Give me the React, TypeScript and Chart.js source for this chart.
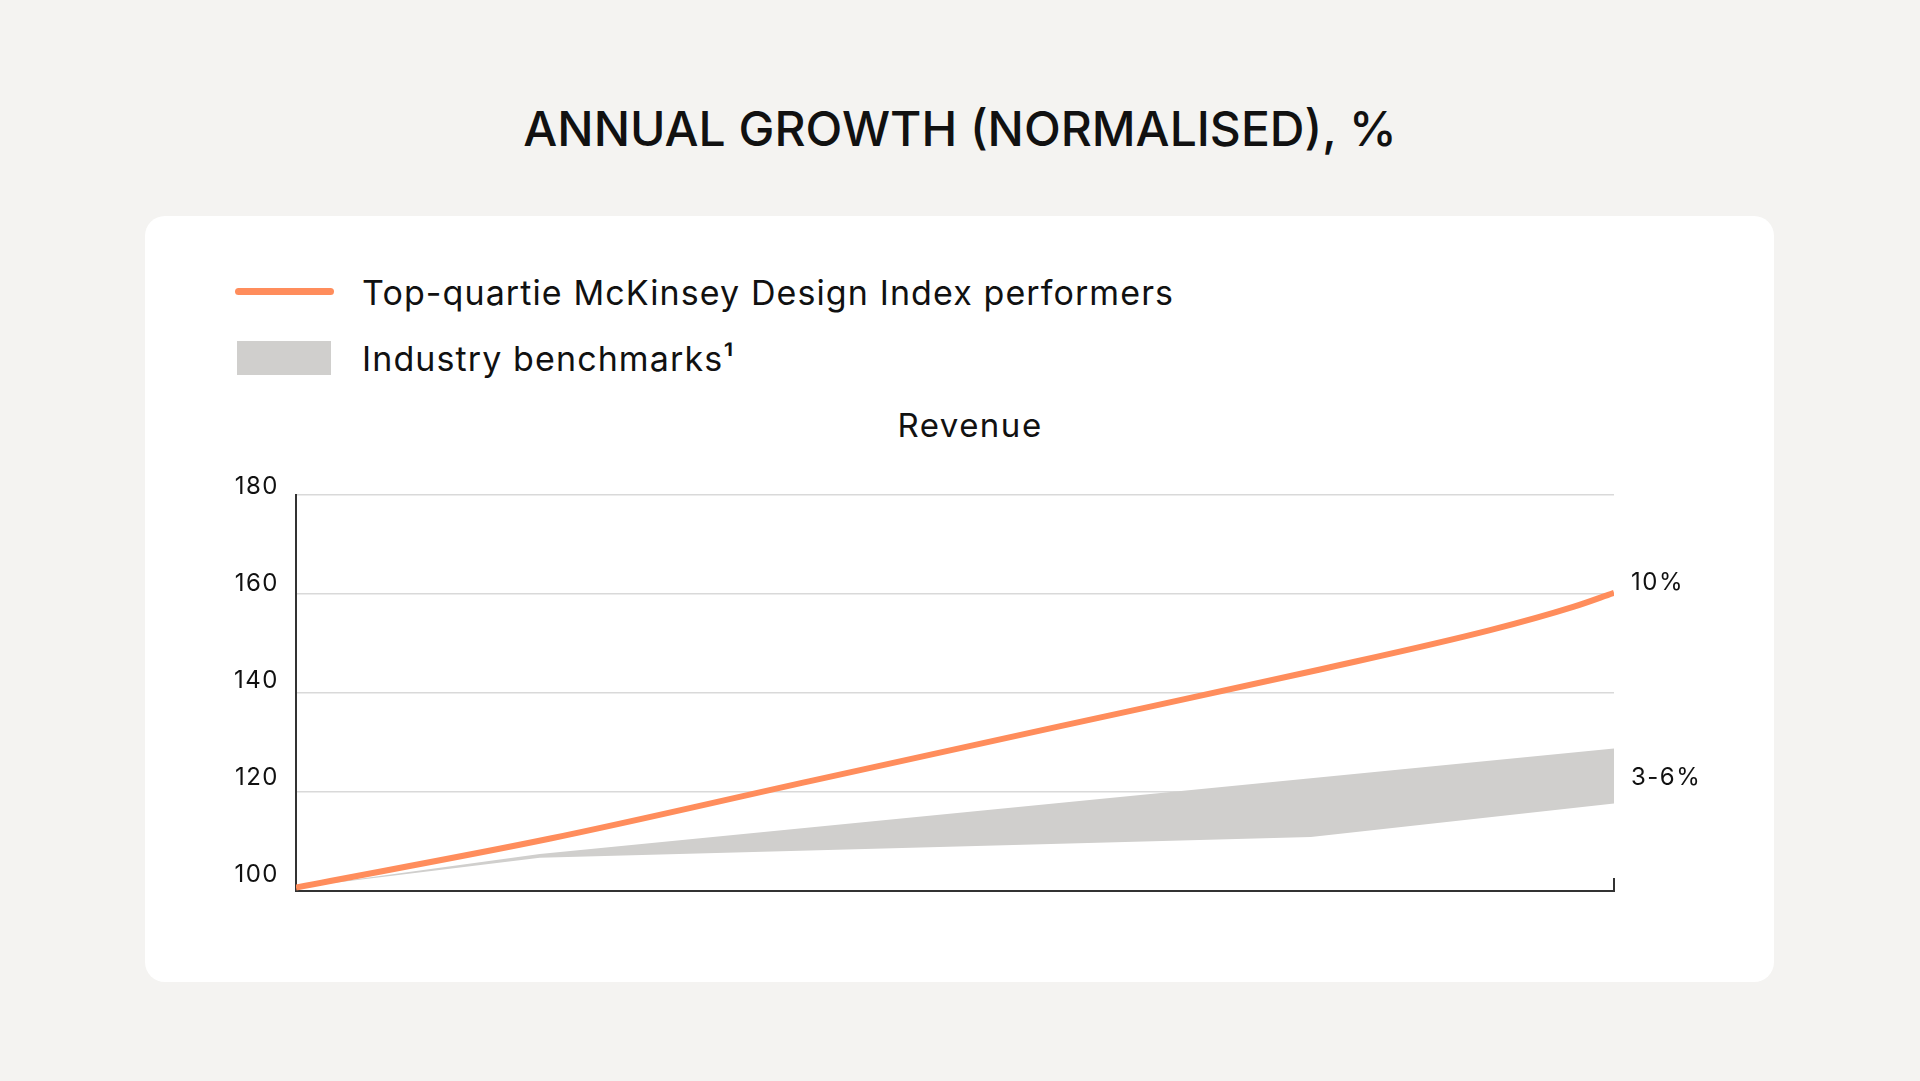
import React, { useEffect, useRef } from "react";
import { Chart, registerables } from "chart.js";

Chart.register(...registerables);

// ---- Data ----
const chartTitle = "ANNUAL GROWTH (NORMALISED), %";
const panelTitle = "Revenue";
const seriesNames = ["Top-quartie McKinsey Design Index performers", "Industry benchmarks¹"];
const yTicks = [100, 120, 140, 160, 180];
// x: share of the period (0 = start, 100 = end)
const topX = [0, 19.3, 39, 58, 77.7, 90.6, 96.9, 100];
const topQuartile = [100.7, 110.6, 122.2, 133.3, 144.75, 152.7, 157.4, 160.25];
const bandX = [0, 18.5, 77, 100];
const bandLower = [100.7, 106.7, 110.9, 117.7];
const bandUpper = [100.7, 107.5, 122.8, 128.8];
const endLabels = ["10%", "3-6%"];

const ORANGE = "#ff8d5c";
const GREY = "#d0cfcd";
const FONT = "Inter, 'Noto Sans', sans-serif";

const labelPlugin = {
  id: "labelsAndTick",
  afterDraw(chart: any) {
    const { ctx } = chart;
    const xs = chart.scales.x;
    const ys = chart.scales.y;
    ctx.save();
    // small end tick on the x axis
    ctx.strokeStyle = "#333";
    ctx.lineWidth = 2;
    ctx.beginPath();
    ctx.moveTo(xs.right, ys.bottom);
    ctx.lineTo(xs.right, ys.bottom - 13);
    ctx.stroke();
    ctx.fillStyle = "#111";
    ctx.font = `400 24px ${FONT}`;
    (ctx as any).letterSpacing = "1.5px";
    ctx.textBaseline = "middle";
    // y tick labels, sitting just above their gridlines
    ctx.textAlign = "right";
    yTicks.forEach((v) => {
      const off = 8 + (yTicks[yTicks.length - 1] - v) / 10;
      ctx.fillText(String(v), ys.left + ys.width - 17, ys.getPixelForValue(v) - off);
    });
    // end labels
    ctx.textAlign = "left";
    const lastTop = topQuartile[topQuartile.length - 1];
    ctx.fillText(endLabels[0], xs.right + 17, ys.getPixelForValue(lastTop) - 10);
    const mid = (bandLower[bandLower.length - 1] + bandUpper[bandUpper.length - 1]) / 2;
    ctx.fillText(endLabels[1], xs.right + 17, ys.getPixelForValue(mid) + 2);
    ctx.restore();
  },
};

function RevenueChart() {
  const ref = useRef<HTMLCanvasElement | null>(null);
  useEffect(() => {
    if (!ref.current) return;
    const chart = new Chart(ref.current, {
      type: "line",
      data: {
        datasets: [
          {
            label: "lower",
            data: bandX.map((x, i) => ({ x, y: bandLower[i] })),
            borderWidth: 0,
            borderColor: GREY,
            pointRadius: 0,
            fill: false,
            order: 1,
          },
          {
            label: seriesNames[1],
            data: bandX.map((x, i) => ({ x, y: bandUpper[i] })),
            borderWidth: 0,
            borderColor: GREY,
            backgroundColor: GREY,
            pointRadius: 0,
            fill: "-1",
            order: 2,
          },
          {
            label: seriesNames[0],
            data: topX.map((x, i) => ({ x, y: topQuartile[i] })),
            borderColor: ORANGE,
            borderWidth: 6,
            pointRadius: 0,
            cubicInterpolationMode: "monotone",
            fill: false,
            order: 0,
          },
        ],
      },
      options: {
        animation: false,
        responsive: false,
        maintainAspectRatio: false,
        layout: { padding: { left: 0, right: 86, top: 55, bottom: 20 } },
        plugins: { legend: { display: false }, tooltip: { enabled: false }, title: { display: false } },
        scales: {
          x: {
            type: "linear",
            min: 0,
            max: 100,
            grid: { display: false },
            border: { display: true, color: "#333", width: 2 },
            ticks: { display: false },
            afterFit: (s: any) => {
              s.height = 0;
            },
          },
          y: {
            min: yTicks[0],
            max: yTicks[yTicks.length - 1],
            afterBuildTicks: (s: any) => {
              s.ticks = yTicks.map((v) => ({ value: v }));
            },
            grid: { color: "#d9d9d9", lineWidth: 1.5, drawTicks: false },
            border: { display: true, color: "#333", width: 2 },
            ticks: { display: false },
            afterFit: (s: any) => {
              s.width = 96;
            },
          },
        },
      },
      plugins: [labelPlugin],
    } as any);
    return () => chart.destroy();
  }, []);
  return <canvas ref={ref} width={1500} height={471} style={{ position: "absolute", left: 200, top: 440, width: 1500, height: 471 }} />;
}

export default function App() {
  return (
    <div style={{ position: "fixed", left: 0, top: 0, width: 1920, height: 1081, background: "#f4f3f1", fontFamily: FONT, color: "#111", overflow: "hidden" }}>
      <div style={{ position: "absolute", left: 0, width: 1920, top: 100, textAlign: "center", fontSize: 48, fontWeight: 500, lineHeight: "58px" }}>
        {chartTitle}
      </div>
      <div style={{ position: "absolute", left: 145, top: 216, width: 1629, height: 766, background: "#fff", borderRadius: 20 }} />
      <div style={{ position: "absolute", left: 235, top: 288, width: 99, height: 7, borderRadius: 4, background: ORANGE }} />
      <div style={{ position: "absolute", left: 362, top: 273, fontSize: 34, letterSpacing: "1.1px", lineHeight: "40px", whiteSpace: "nowrap" }}>{seriesNames[0]}</div>
      <div style={{ position: "absolute", left: 237, top: 341, width: 94, height: 34, background: GREY }} />
      <div style={{ position: "absolute", left: 362, top: 339, fontSize: 34, letterSpacing: "1.1px", lineHeight: "40px", whiteSpace: "nowrap" }}>{seriesNames[1]}</div>
      <div style={{ position: "absolute", left: 770, width: 400, top: 405, textAlign: "center", fontSize: 33, letterSpacing: "1.5px", lineHeight: "40px" }}>{panelTitle}</div>
      <RevenueChart />
    </div>
  );
}
